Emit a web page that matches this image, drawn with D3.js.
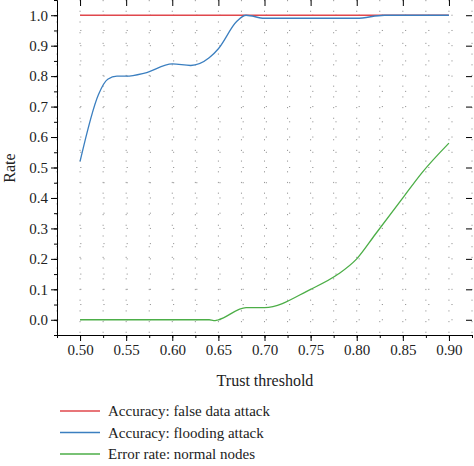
<!DOCTYPE html>
<html><head><meta charset="utf-8">
<script src="https://cdn.jsdelivr.net/npm/d3@7"></script>
<style>body{margin:0;background:#fff}text{font-family:"Liberation Serif",serif}</style>
</head><body><svg id="c" width="474" height="466"></svg>
<script>
const thresholds = [0.50,0.52,0.53,0.54,0.55,0.57,0.60,0.62,0.64,0.65,0.67,0.68,0.70,0.75,0.80,0.83,0.85,0.90];
const falseData = [1,1,1,1,1,1,1,1,1,1,1,1,1,1,1,1,1,1];
const flooding = [0.52,0.74,0.79,0.80,0.80,0.81,0.84,0.835,0.86,0.89,0.98,1.0,0.99,0.99,0.99,1.0,1.0,1.0];
const errX = [0.50,0.55,0.60,0.64,0.645,0.65,0.68,0.70,0.75,0.78,0.80,0.82,0.85,0.87,0.90];
const errRate = [0,0,0,0,-0.003,0,0.04,0.04,0.10,0.15,0.20,0.28,0.40,0.48,0.58];
const xTicks = [0.50,0.55,0.60,0.65,0.70,0.75,0.80,0.85,0.90];
const yTicks = [0,0.1,0.2,0.3,0.4,0.5,0.6,0.7,0.8,0.9,1.0];
const series = [
  {name:"Accuracy: false data attack", color:"#e0474c", xs:thresholds, ys:falseData},
  {name:"Accuracy: flooding attack", color:"#3b7fc0", xs:thresholds, ys:flooding},
  {name:"Error rate: normal nodes", color:"#4cae47", xs:errX, ys:errRate}
];

const svg = d3.select("#c");
const L = 57, R = 472, T = 0, B = 335;
const x = d3.scaleLinear().domain([0.475,0.925]).range([L,R]);
const y = d3.scaleLinear().domain([-0.05,1.05]).range([B,T]);

// dotted grid
const g = svg.append("g");
for (let v = 0.475; v <= 0.926; v += 0.025)
  g.append("line").attr("x1",x(v)).attr("x2",x(v)).attr("y1",T).attr("y2",B)
   .attr("stroke","#999").attr("stroke-width",1).attr("stroke-dasharray","1.2,9.5");
for (let v = 0; v <= 1.001; v += 0.05)
  g.append("line").attr("x1",L).attr("x2",R).attr("y1",y(v)).attr("y2",y(v))
   .attr("stroke","#999").attr("stroke-width",1).attr("stroke-dasharray","1.2,22");

// axes
svg.append("g").attr("transform",`translate(0,${B})`)
  .call(d3.axisBottom(x).tickValues(xTicks).tickFormat(d3.format(".2f")).tickSize(6).tickSizeOuter(0))
  .call(a=>a.selectAll("text").attr("font-size",15).attr("fill","#222"));
svg.append("g").attr("transform",`translate(0,${B})`)
  .call(d3.axisBottom(x).tickValues(d3.range(0.475,0.93,0.025)).tickFormat("").tickSize(3).tickSizeOuter(0));
svg.append("g").attr("transform",`translate(${L},0)`)
  .call(d3.axisLeft(y).tickValues(yTicks).tickFormat(d3.format(".1f")).tickSize(6).tickSizeOuter(0))
  .call(a=>a.selectAll("text").attr("font-size",15).attr("fill","#222"));
svg.append("g").attr("transform",`translate(${L},0)`)
  .call(d3.axisLeft(y).tickValues(d3.range(-0.05,1.06,0.05)).tickFormat("").tickSize(3).tickSizeOuter(0));
svg.append("g").attr("transform",`translate(0,${T})`)
  .call(d3.axisBottom(x).tickValues(xTicks).tickFormat("").tickSize(6).tickSizeOuter(0))
  .call(a=>a.select(".domain").remove());
svg.append("g").attr("transform",`translate(${R},0)`)
  .call(d3.axisLeft(y).tickValues(yTicks).tickFormat("").tickSize(6).tickSizeOuter(0))
  .call(a=>a.select(".domain").remove());

svg.append("text").attr("x",265).attr("y",386).attr("text-anchor","middle")
  .attr("font-size",16).attr("fill","#222").text("Trust threshold");
svg.append("text").attr("transform","translate(15,168) rotate(-90)").attr("text-anchor","middle")
  .attr("font-size",16).attr("fill","#222").text("Rate");

const line = d3.line().curve(d3.curveMonotoneX);
series.forEach((s,i)=>{
  svg.append("path").attr("d",line(s.xs.map((v,j)=>[x(v),y(s.ys[j])])))
    .attr("fill","none").attr("stroke",s.color).attr("stroke-width",1.3);
  const ly = 411 + i*21.5;
  svg.append("line").attr("x1",60).attr("x2",100).attr("y1",ly).attr("y2",ly)
    .attr("stroke",s.color).attr("stroke-width",1.3);
  svg.append("text").attr("x",108).attr("y",ly+5).attr("font-size",15).attr("fill","#222").text(s.name);
});
</script></body></html>
